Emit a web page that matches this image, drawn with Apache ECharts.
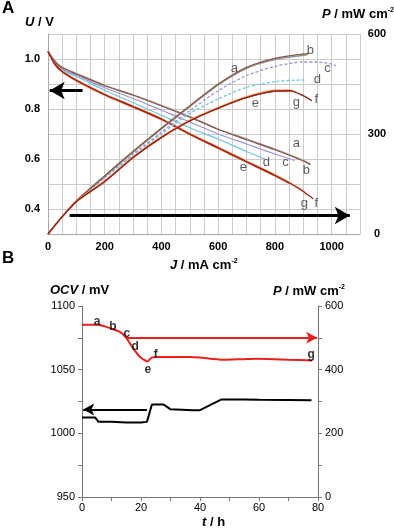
<!DOCTYPE html>
<html><head><meta charset="utf-8">
<script src="https://cdn.jsdelivr.net/npm/echarts@6/dist/echarts.min.js"></script>
<style>html,body{margin:0;padding:0;background:#fff}#c{width:394px;height:531px}</style>
</head><body><div id="c"></div>
<script>
// ---------- Panel A : polarization (U) and power density (P) vs J ----------
const xTicksA = [0, 200, 400, 600, 800, 1000];
const uTicksA = [0.4, 0.6, 0.8, 1.0];
const pTicksA = [0, 300, 600];

const J_Ua = [0,25,50,100,200,300,400,500,600,700,800,900,925];
const U_a  = [1.03,0.99,0.967,0.942,0.895,0.857,0.815,0.77,0.72,0.68,0.64,0.595,0.58];
const J_Ub = [0,25,50,100,200,300,400,500,600,700,800,900,925];
const U_b  = [1.03,0.988,0.965,0.94,0.893,0.855,0.812,0.767,0.718,0.677,0.637,0.592,0.577];
const J_Uc = [0,50,100,200,300,400,500,600,700,800,870];
const U_c  = [1.03,0.96,0.935,0.885,0.842,0.795,0.748,0.70,0.66,0.62,0.594];
const J_Ud = [0,50,100,200,300,400,500,600,700,765];
const U_d  = [1.03,0.955,0.93,0.875,0.825,0.775,0.725,0.68,0.63,0.60];
const J_Ue = [0,25,50,100,200,300,400,500,600,700,800,850];
const U_e  = [1.03,0.975,0.948,0.912,0.855,0.807,0.757,0.697,0.642,0.587,0.532,0.502];
const J_Uf = [0,25,50,100,200,300,400,500,600,700,800,850,900,935];
const U_f  = [1.03,0.98,0.95,0.915,0.858,0.81,0.76,0.70,0.645,0.59,0.535,0.505,0.47,0.441];
const J_Ug = [0,25,50,100,200,300,400,500,600,700,800,850,900,910];
const U_g  = [1.03,0.982,0.953,0.918,0.861,0.813,0.763,0.703,0.648,0.593,0.538,0.508,0.474,0.454];

const J_Pa = [0,50,100,200,300,400,500,600,700,800,900,915];
const P_a  = [0,52,98,172,245,315,382,447,497,523,536,538];
const J_Pb = [0,50,100,200,300,400,500,600,700,800,900,920];
const P_b  = [0,52,100,175,248,318,385,450,500,527,540,542];
const J_Pc = [0,100,200,300,400,500,600,700,800,900,950,1000,1015];
const P_c  = [0,98,170,240,305,370,430,475,503,516,516,510,505];
const J_Pd = [0,100,200,300,400,500,600,700,800,900,910];
const P_d  = [0,97,168,236,300,362,405,440,457,462,458];
const J_Pe = [0,50,100,200,300,400,500,600,700,800,860];
const P_e  = [0,52,98,158,230,290,340,378,410,428,429];
const J_Pf = [0,50,100,200,300,400,500,600,700,800,850,900,930];
const P_f  = [0,52,97,157,229,289,339,377,409,429,430,415,400];
const J_Pg = [0,50,100,200,300,400,500,600,700,800,850,900];
const P_g  = [0,52,99,160,232,292,342,380,412,432,432,414];

// curve letters: [name, J, value]
const labelsUA = [['a',876,0.662],['b',911,0.554],['c',837,0.586],['d',770,0.586],['e',689,0.566],['g',904,0.422],['f',946,0.422]];
const labelsPA = [['a',657,496],['b',925,550],['c',985,496],['d',950,463],['e',731,391],['g',876,394],['f',946,403]];

// ---------- Panel B : OCV and P vs time ----------
const xTicksB = [0, 20, 40, 60, 80];
const ocvTicksB = [950, 1000, 1050, 1100];
const pTicksB = [0, 200, 400, 600];
const t_P  = [0,5,7,10,13,15,17.4,19.7,22.2,23.6,25.3,30,36.6,40,47.8,55,59.1,65,70,78];
const P_B  = [541,541,538,529,518,500,466,440,426,438,440,440,440,438,431,433,434,433,431,429];
const t_OCV = [0,4.5,5.6,10,15,20,22,23.7,27.6,29.9,37.7,40,47.3,55,60,70,77.8];
const OCV_B = [1012.4,1012.4,1009,1009,1008.6,1008.6,1009,1022.7,1022.7,1019,1018.2,1018.2,1026.6,1026.6,1026.4,1026.2,1026];
const labelsB = [['a',5.1,550],['b',10.5,536],['c',15.2,513],['d',18.0,471],['e',22.3,401],['f',25.0,448],['g',77.7,447]];

const FONT = 'Liberation Sans, Arial, sans-serif';
const zip = (a, b) => a.map((v, i) => [v, b[i]]);
const near = (arr, v, eps) => arr.some(t => Math.abs(t - v) < eps);

const colA = {a:'#8c8c8c', b:'#8a5a48', c:'#9d93d6', d:'#6ec6de', e:'#e8452c', f:'#8e2616', g:'#f2a878'};

function lineA(J, V, color, yIdx, dashed, w) {
  return {type:'line', xAxisIndex:0, yAxisIndex:yIdx, data:zip(J, V), showSymbol:false, smooth:0.25,
    lineStyle:{color, width:w || 1.3, type: dashed ? [3,2] : 'solid'}, z:3, silent:true};
}
function letterSeries(list, xIdx, yIdx, style) {
  return {type:'scatter', xAxisIndex:xIdx, yAxisIndex:yIdx, symbolSize:0, silent:true, z:6,
    data:list.map(l => ({name:l[0], value:[l[1], l[2]]})),
    label:Object.assign({show:true, position:'inside', formatter:p => p.name, fontFamily:FONT}, style)};
}

const chart = echarts.init(document.getElementById('c'), null, {renderer:'canvas'});
const gridColor = '#cccccc';

const option = {
  animation:false,
  backgroundColor:'#ffffff',
  grid:[
    {left:48, top:34, width:312, height:200},
    {left:82, top:306, width:236, height:191}
  ],
  xAxis:[
    {gridIndex:0, type:'value', min:0, max:1100, interval:50,
     axisLine:{show:true, lineStyle:{color:'#aaaaaa'}}, axisTick:{show:false},
     splitLine:{show:true, lineStyle:{color:gridColor, width:1}},
     axisLabel:{margin:7, fontFamily:FONT, fontSize:11, fontWeight:'bold', color:'#000',
       formatter:v => near(xTicksA, v, 1) ? String(v) : ''}},
    {gridIndex:1, type:'value', min:0, max:80, interval:10,
     axisLine:{show:true, lineStyle:{color:'#777777'}}, axisTick:{show:true, length:4, lineStyle:{color:'#777777'}},
     splitLine:{show:false},
     axisLabel:{margin:5, fontFamily:FONT, fontSize:11, color:'#000',
       formatter:v => near(xTicksB, v, 0.1) ? String(v) : ''}}
  ],
  yAxis:[
    {gridIndex:0, type:'value', min:0.3, max:1.1, interval:0.1,
     axisLine:{show:true, lineStyle:{color:'#aaaaaa'}}, axisTick:{show:false},
     splitLine:{show:true, lineStyle:{color:gridColor, width:1}},
     axisLabel:{margin:8, fontFamily:FONT, fontSize:11, fontWeight:'bold', color:'#000',
       formatter:v => near(uTicksA, v, 0.01) ? v.toFixed(1) : ''}},
    {gridIndex:0, type:'value', min:0, max:600, interval:75, position:'right',
     axisLine:{show:false}, axisTick:{show:false}, splitLine:{show:false},
     axisLabel:{margin:17, align:'center', fontFamily:FONT, fontSize:11, fontWeight:'bold', color:'#000',
       formatter:v => near(pTicksA, v, 1) ? String(v) : ''}},
    {gridIndex:1, type:'value', min:950, max:1100, interval:25,
     axisLine:{show:true, lineStyle:{color:'#777777'}}, axisTick:{show:true, length:4, lineStyle:{color:'#777777'}},
     splitLine:{show:false},
     axisLabel:{margin:7, fontFamily:FONT, fontSize:11, color:'#000',
       formatter:v => near(ocvTicksB, v, 0.5) ? String(v) : ''}},
    {gridIndex:1, type:'value', min:0, max:600, interval:100, position:'right',
     axisLine:{show:true, lineStyle:{color:'#777777'}}, axisTick:{show:true, length:4, lineStyle:{color:'#777777'}},
     splitLine:{show:false},
     axisLabel:{margin:7, fontFamily:FONT, fontSize:11, color:'#000',
       formatter:v => near(pTicksB, v, 0.5) ? String(v) : ''}}
  ],
  series:[
    // polarization curves (left axis)
    lineA(J_Uc, U_c, colA.c, 0),
    lineA(J_Ud, U_d, colA.d, 0),
    lineA(J_Ua, U_a, colA.a, 0),
    lineA(J_Ub, U_b, colA.b, 0),
    lineA(J_Ug, U_g, colA.g, 0),
    lineA(J_Ue, U_e, colA.e, 0),
    lineA(J_Uf, U_f, colA.f, 0),
    // power curves (right axis)
    lineA(J_Pc, P_c, colA.c, 1, true),
    lineA(J_Pd, P_d, colA.d, 1, true),
    lineA(J_Pa, P_a, colA.a, 1),
    lineA(J_Pb, P_b, colA.b, 1),
    lineA(J_Pg, P_g, colA.g, 1),
    lineA(J_Pe, P_e, colA.e, 1),
    lineA(J_Pf, P_f, colA.f, 1),
    letterSeries(labelsUA, 0, 0, {fontSize:13, color:'#333'}),
    letterSeries(labelsPA, 0, 1, {fontSize:13, color:'#333'}),
    // arrows panel A
    {type:'line', xAxisIndex:0, yAxisIndex:0, data:[], silent:true,
     markLine:{silent:true, symbol:['none','arrow'], symbolSize:[13,15], label:{show:false},
       lineStyle:{color:'#000', width:3, type:'solid'},
       data:[
         [{coord:[122,0.874]},{coord:[6,0.874]}],
         [{coord:[76,0.374]},{coord:[1064,0.374]}]
       ]}},
    // panel B
    {type:'line', xAxisIndex:1, yAxisIndex:3, data:zip(t_P, P_B), showSymbol:false, smooth:0.2,
     lineStyle:{color:'#e8201a', width:2}, silent:true,
     markLine:{silent:true, symbol:['none','arrow'], symbolSize:[9,11], label:{show:false},
       lineStyle:{color:'#e8201a', width:2, type:'solid'},
       data:[[{coord:[15,500]},{coord:[79.7,500]}]]}},
    {type:'line', xAxisIndex:1, yAxisIndex:2, data:zip(t_OCV, OCV_B), showSymbol:false,
     lineStyle:{color:'#000', width:2}, silent:true,
     markLine:{silent:true, symbol:['none','arrow'], symbolSize:[9,11], label:{show:false},
       lineStyle:{color:'#000', width:2, type:'solid'},
       data:[[{coord:[22,1018.7]},{coord:[0.4,1018.7]}]]}},
    letterSeries(labelsB, 1, 3, {fontSize:12, fontWeight:'bold', color:'#000'})
  ],
  graphic:[
    {type:'text', left:2, top:0, style:{text:'A', font:'bold 17px ' + FONT, fill:'#000'}},
    {type:'text', left:2, top:250, style:{text:'B', font:'bold 17px ' + FONT, fill:'#000'}},
    {type:'text', left:25, top:16, style:{text:'{i|U}{n| / V}', rich:{
      i:{fontFamily:FONT, fontSize:13, fontWeight:'bold', fontStyle:'italic', fill:'#000'},
      n:{fontFamily:FONT, fontSize:13, fontWeight:'bold', fill:'#000'}}}},
    {type:'text', left:322, top:7, style:{text:'{i|P}{n| / mW cm}{s|-2}', rich:{
      i:{fontFamily:FONT, fontSize:13, fontWeight:'bold', fontStyle:'italic', fill:'#000', lineHeight:15},
      n:{fontFamily:FONT, fontSize:13, fontWeight:'bold', fill:'#000', lineHeight:15},
      s:{fontFamily:FONT, fontSize:7, fontWeight:'bold', fill:'#000', verticalAlign:'top', lineHeight:15}}}},
    {type:'text', left:170, top:258, style:{text:'{i|J}{n| / mA cm}{s|-2}', rich:{
      i:{fontFamily:FONT, fontSize:13, fontWeight:'bold', fontStyle:'italic', fill:'#000', lineHeight:15},
      n:{fontFamily:FONT, fontSize:13, fontWeight:'bold', fill:'#000', lineHeight:15},
      s:{fontFamily:FONT, fontSize:7, fontWeight:'bold', fill:'#000', verticalAlign:'top', lineHeight:15}}}},
    {type:'text', left:50, top:284, style:{text:'{i|OCV}{n| / mV}', rich:{
      i:{fontFamily:FONT, fontSize:13, fontWeight:'bold', fontStyle:'italic', fill:'#000'},
      n:{fontFamily:FONT, fontSize:13, fontWeight:'bold', fill:'#000'}}}},
    {type:'text', left:273, top:284, style:{text:'{i|P}{n| / mW cm}{s|-2}', rich:{
      i:{fontFamily:FONT, fontSize:13, fontWeight:'bold', fontStyle:'italic', fill:'#000', lineHeight:15},
      n:{fontFamily:FONT, fontSize:13, fontWeight:'bold', fill:'#000', lineHeight:15},
      s:{fontFamily:FONT, fontSize:7, fontWeight:'bold', fill:'#000', verticalAlign:'top', lineHeight:15}}}},
    {type:'text', left:202, top:516, style:{text:'{i|t}{n| / h}', rich:{
      i:{fontFamily:FONT, fontSize:13, fontWeight:'bold', fontStyle:'italic', fill:'#000'},
      n:{fontFamily:FONT, fontSize:13, fontWeight:'bold', fill:'#000'}}}}
  ]
};
chart.setOption(option);
</script></body></html>
